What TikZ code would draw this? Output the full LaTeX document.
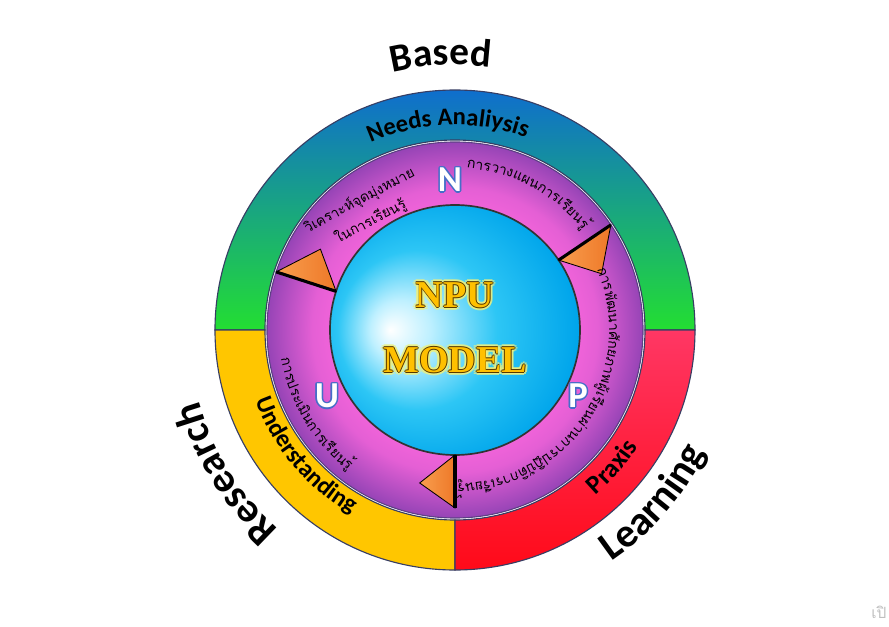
\documentclass[tikz,border=0pt]{standalone}
\usepackage{fontspec}
\setmainfont{Carlito}
\newfontfamily\thaifont[Script=Thai]{Loma}
\newfontfamily\modelfont{Liberation Serif}
\usetikzlibrary{decorations.text,calc}
\definecolor{bandblue}{RGB}{15,110,205}
\definecolor{bandteal}{RGB}{25,178,115}
\definecolor{bandgreen}{RGB}{35,222,50}
\definecolor{bandyellow}{RGB}{255,198,0}
\definecolor{bandred}{RGB}{255,10,25}
\definecolor{bandpink}{RGB}{255,55,100}
\definecolor{ringpink}{RGB}{242,100,218}
\definecolor{ringpurple}{RGB}{150,68,182}
\definecolor{sphlite}{RGB}{190,240,255}
\definecolor{sphmid}{RGB}{45,198,245}
\definecolor{sphdeep}{RGB}{0,165,235}
\definecolor{sphedge}{RGB}{0,118,196}
\definecolor{arrorange}{RGB}{238,120,40}
\definecolor{arrorangelt}{RGB}{248,158,78}
\definecolor{rimline}{RGB}{55,62,100}
\definecolor{letterblue}{RGB}{70,110,200}
\definecolor{goldtext}{RGB}{255,192,0}
\definecolor{goldrim}{RGB}{85,55,0}
\definecolor{goldglow}{RGB}{235,240,130}
\pgfdeclareradialshading{sphereshade}{\pgfpoint{-13bp}{0bp}}{color(0bp)=(white); color(6bp)=(sphlite); color(16bp)=(sphmid); color(28bp)=(sphdeep); color(38bp)=(sphedge)}
\pgfdeclareradialshading{ringshade}{\pgfpointorigin}{color(0bp)=(ringpink); color(16bp)=(ringpink); color(19bp)=(ringpink!85!ringpurple); color(25bp)=(ringpurple); color(50bp)=(ringpurple)}

\begin{document}
\begin{tikzpicture}[x=0.025cm,y=0.025cm,
  arctext/.style={decorate,decoration={text along path,text align=center,text={#1}}},
  rim/.style={draw=rimline,line width=0.8}]
\useasboundingbox (-455,-296) rectangle (434,330);

% --- outer band: top half, yellow and red quarters ---
\shade[top color=bandblue,middle color=bandteal,bottom color=bandgreen,rim] (0:240) arc[start angle=0,end angle=180,radius=240] -- (180:190) arc[start angle=180,end angle=0,radius=190] -- cycle;
\fill[bandyellow,rim] (180:240) arc[start angle=180,end angle=270,radius=240] -- (270:190) arc[start angle=270,end angle=180,radius=190] -- cycle;
\shade[top color=bandpink,bottom color=bandred,rim] (270:240) arc[start angle=270,end angle=360,radius=240] -- (0:190) arc[start angle=360,end angle=270,radius=190] -- cycle;

% --- purple ring and centre sphere ---
\shade[shading=ringshade] (0,0) circle (188);
\draw[draw=rimline!60!ringpurple,line width=0.8] (0,0) circle (188);
\shade[shading=sphereshade] (0,0) circle (125);
\draw[line width=1.2,black!80] (0,0) circle (125);

% --- orange arrow heads ---
\foreach \b/\r in {162/188,34/188,270/178}{
  \shade[left color=arrorangelt,right color=arrorange,draw=black,line width=0.6] (\b:125) -- (\b:\r) -- (\b-13:157) -- cycle;
  \draw[line width=2.2] (\b:125) -- (\b:\r);
}

% --- curved labels ---
\path[arctext={|\bfseries\fontsize{28}{34}\selectfont|Based}] (138:265) arc[start angle=138,end angle=48,radius=265];
\path[arctext={|\bfseries\fontsize{29}{34}\selectfont|Research}] (257:266) arc[start angle=257,end angle=167,radius=266];
\path[arctext={|\bfseries\fontsize{29}{34}\selectfont|Learning}] (-86:279) arc[start angle=-86,end angle=4,radius=279];
\path[arctext={|\bfseries\fontsize{17.5}{20}\selectfont|Needs Analiysis}] (152:205) arc[start angle=152,end angle=32,radius=205];
\path[arctext={|\bfseries\fontsize{17.5}{20}\selectfont|Understanding}] (175:211) arc[start angle=175,end angle=265,radius=211];
\path[arctext={|\bfseries\fontsize{18.5}{20}\selectfont|Praxis}] (-80:217) arc[start angle=-80,end angle=-2,radius=217];

% --- thai labels on the ring ---
\path[arctext={|\thaifont\fontsize{10}{12}\selectfont|{การ}{วาง}{แผน}{การ}{เรียน}{รู้}}] (97:162) arc[start angle=97,end angle=27,radius=162];
\path[arctext={|\thaifont\fontsize{10}{12}\selectfont|{การ}{ประ}{เมิน}{การ}{เรียน}{รู้}}] (180:176) arc[start angle=180,end angle=242,radius=176];
\path[arctext={|\thaifont\fontsize{10}{12}\selectfont|{การ}{พัฒ}{นา}{ศัก}{ยภาพ}{ผู้}{เรียน}{ผ่าน}{การ}{ปฏิ}{บัติ}{การ}{เรียน}{รู้}}] (27:154) arc[start angle=27,end angle=-93,radius=154];
\node[font=\thaifont\fontsize{10}{17}\selectfont,align=center,rotate=28] (goal) at (-90,119) {วิเคราะห์จุดมุ่งหมาย\\ในการเรียนรู้};

% --- N, U, P letters ---
\foreach \nm/\x/\y in {N/-5/150,U/-128/-66,P/123/-66}{
  \foreach \ang in {0,45,...,315}
    \node[font=\bfseries\fontsize{26}{28}\selectfont,text=letterblue] (\nm-\ang) at ($(\x,\y)+(\ang:1.6)$) {\nm};
  \node[font=\bfseries\fontsize{26}{28}\selectfont,text=white] (\nm) at (\x,\y) {\nm};
}

% --- NPU MODEL title ---
\foreach \nm/\y in {NPU/35,MODEL/-30}{
  \foreach \ang in {0,45,...,315}
    \node[font=\modelfont\bfseries\fontsize{27}{30}\selectfont,text=goldglow,opacity=0.7] (\nm-g\ang) at ($(0,\y)+(\ang:3)$) {\nm};
  \foreach \ang in {0,90,...,270}
    \node[font=\modelfont\bfseries\fontsize{27}{30}\selectfont,text=goldrim] (\nm-r\ang) at ($(0,\y)+(\ang:0.9)$) {\nm};
  \node[font=\modelfont\bfseries\fontsize{27}{30}\selectfont,text=goldtext] (\nm) at (0,\y) {\nm};
}

\node[font=\thaifont\fontsize{11}{12}\selectfont,text=black!25,anchor=west,inner sep=0pt] (wm) at (416,-282) {เปิ};
\end{tikzpicture}
\end{document}
